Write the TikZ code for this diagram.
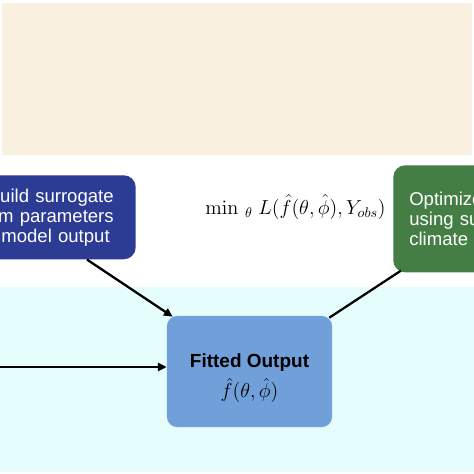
\documentclass[tikz,border=0pt]{standalone}
\usepackage{amsmath,amssymb}
\usepackage[no-math]{fontspec}
\setmainfont{Liberation Sans}
\usepackage{tikz}
\usepackage{xcolor}
\usetikzlibrary{arrows.meta}

\definecolor{sandband}{HTML}{FAF0DF}
\definecolor{iceband}{HTML}{E6FDFE}
\definecolor{navybox}{HTML}{2C3B94}
\definecolor{leafbox}{HTML}{457E44}
\definecolor{skybox}{HTML}{719FD9}

\begin{document}
\begin{tikzpicture}[
  x=0.025cm, y=-0.025cm,
  every node/.style={font=\fontsize{13.2}{14.2}\selectfont},
  panel/.style={rounded corners=3mm,text=white,inner ysep=0pt},
  arr/.style={-{Triangle[length=2.2mm,width=2mm]},line width=1.6pt},
  link/.style={line width=1.6pt}
]
\useasboundingbox (0,0) rectangle (474,474);

% background bands
\fill[sandband] (2,3) rectangle (472,155);
\fill[iceband] (0,287) rectangle (474,472);

\node[panel,fill=navybox,anchor=north east,minimum width=5cm,
      minimum height=2.1cm,inner xsep=0.55cm,text width=3.9cm,
      align=right] (build) at (136,175)
  {uild surrogate\hspace*{0.15cm}\\m parameters\\model output\hspace*{0.1cm}};
\node[panel,fill=leafbox,anchor=north west,minimum width=3.25cm,
      minimum height=2.675cm,inner xsep=0.4cm,text width=2.45cm,
      align=left] (optim) at (393,165)
  {Optimize\\using su\\climate};
\node[inner sep=0pt,anchor=base west,font=\fontsize{14}{16}\selectfont]
  (loss) at (205,214) {$\min\,{}_{\theta}\; L(\hat{f}(\theta,\hat{\phi}),Y_{obs})$};
\node[panel,fill=skybox,text=black,rounded corners=2.5mm,
      minimum width=4.125cm,minimum height=2.775cm,align=center,
      font=\fontsize{13.5}{16}\selectfont] (fitted) at (249.5,371.5)
  {\rule{0pt}{1.45em}\textbf{Fitted Output}\\[4pt]$\hat{f}(\theta,\hat{\phi})$};

\coordinate (feed) at (-5,367);

\draw[arr] ([shift={(-49,0)}]build.south east) -- ([shift={(6,1)}]fitted.north west);
\draw[link] ([shift={(8,-2)}]optim.south west) -- ([shift={(-3,2)}]fitted.north east);
\draw[arr] (feed) -- (feed -| fitted.west);
\end{tikzpicture}
\end{document}
